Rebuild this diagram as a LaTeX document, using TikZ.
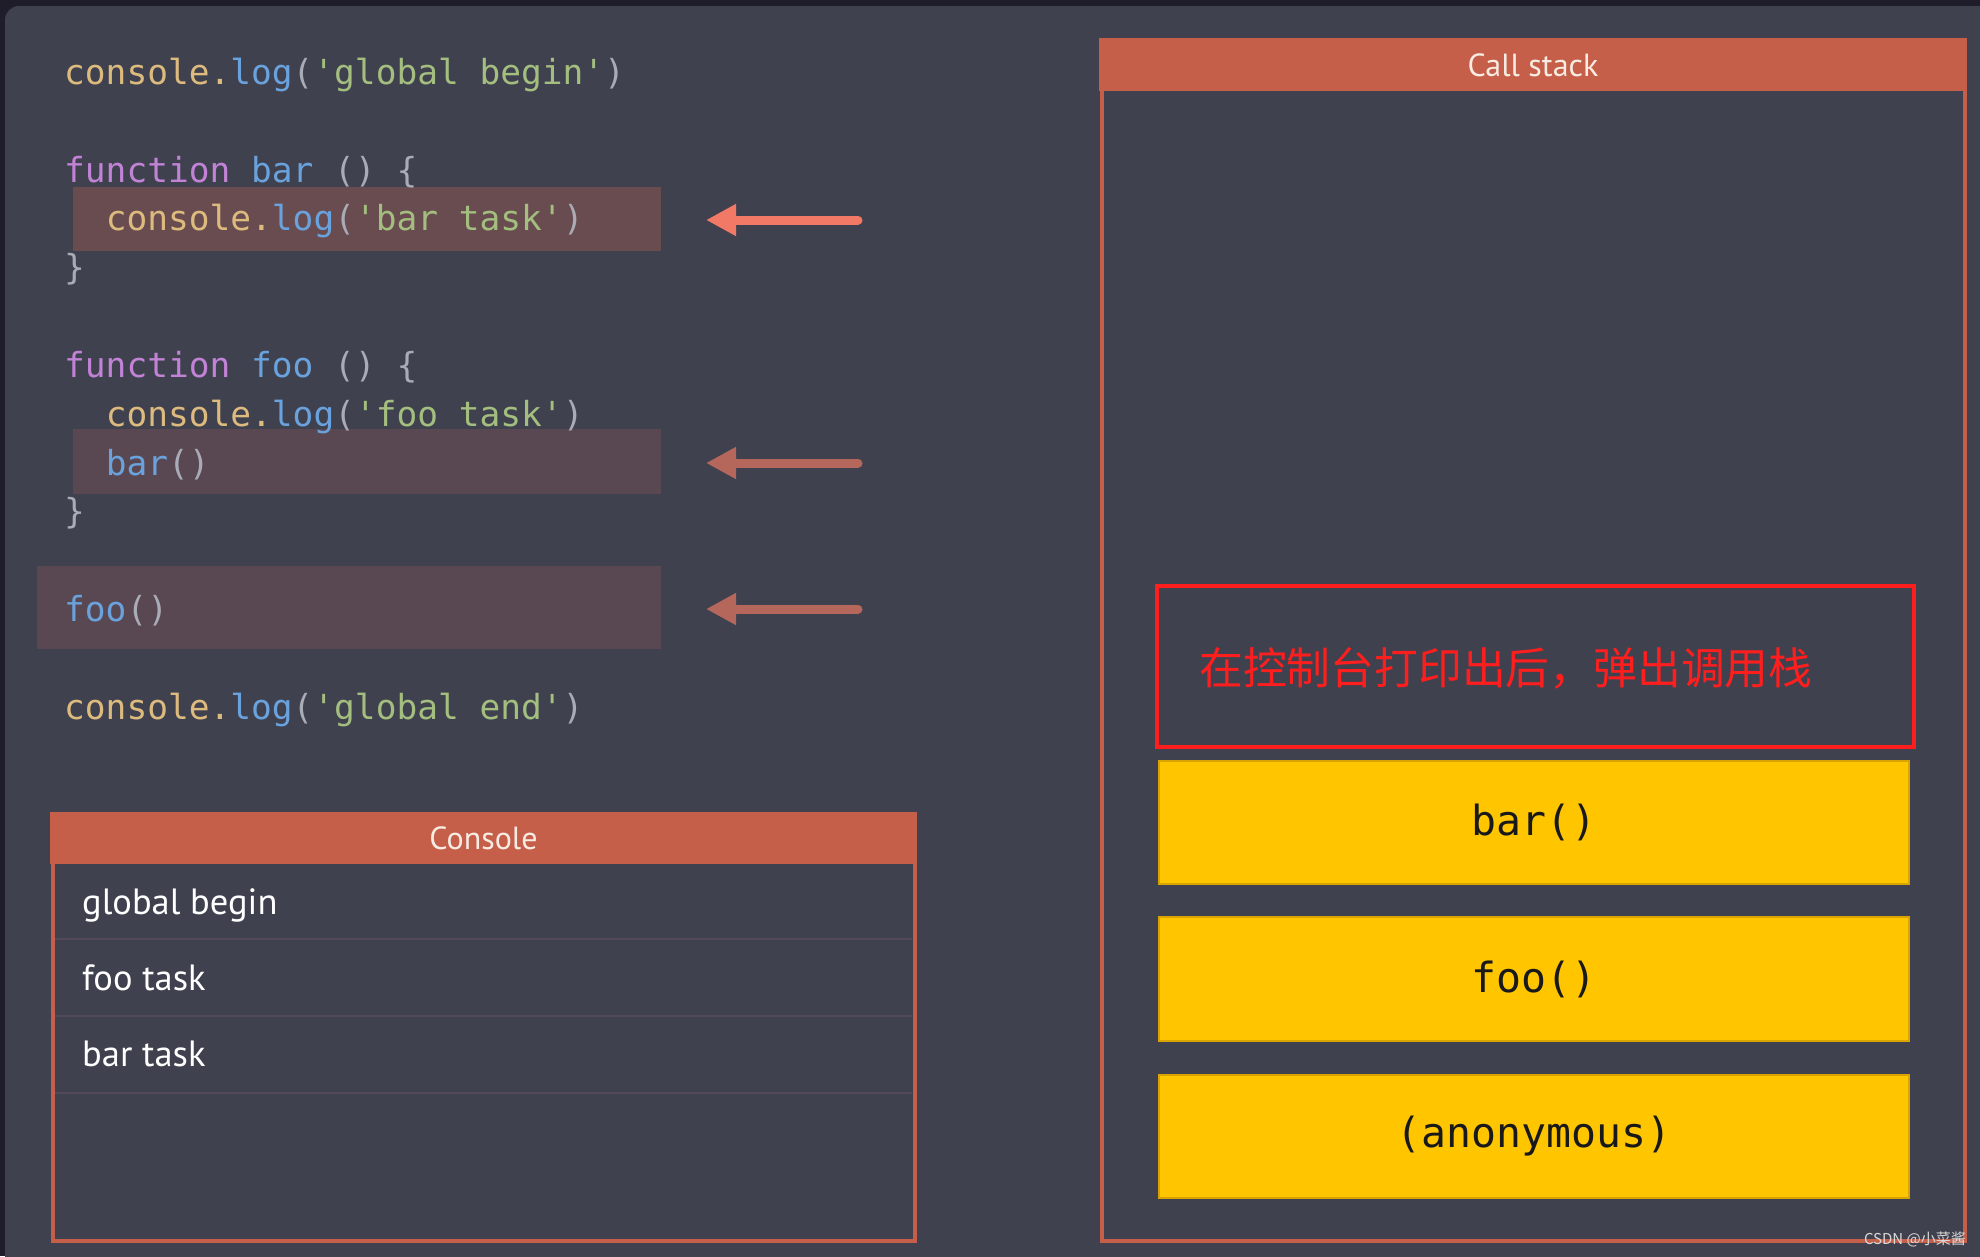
\documentclass[tikz,border=0pt]{standalone}
\usepackage{fontspec}
\setmainfont{PT Sans}
\setmonofont{DejaVu Sans Mono}
\newfontfamily\cjkfont{Noto Sans CJK SC}
\usetikzlibrary{arrows.meta}
\definecolor{outerbg}{HTML}{1F1D29}
\definecolor{panel}{HTML}{3F414E}
\definecolor{hlA}{HTML}{684C50}
\definecolor{hlB}{HTML}{594851}
\definecolor{arrA}{HTML}{F27966}
\definecolor{arrB}{HTML}{B5675C}
\definecolor{coral}{HTML}{C65F4A}
\definecolor{hdrtext}{HTML}{F6ECE2}
\definecolor{cTan}{HTML}{DDBB7E}
\definecolor{cBlue}{HTML}{6AA2DD}
\definecolor{cGreen}{HTML}{A3BE7E}
\definecolor{cPurple}{HTML}{C283D6}
\definecolor{cGrey}{HTML}{A9ABB6}
\definecolor{divider}{HTML}{54495A}
\definecolor{stackY}{HTML}{FFC600}
\definecolor{stackYb}{HTML}{D9A300}
\definecolor{alertred}{HTML}{FF1E1E}
\newcommand\ccT[1]{\textcolor{cTan}{#1}}
\newcommand\ccB[1]{\textcolor{cBlue}{#1}}
\newcommand\ccS[1]{\textcolor{cGreen}{#1}}
\newcommand\ccP[1]{\textcolor{cPurple}{#1}}
\newcommand\ccG[1]{\textcolor{cGrey}{#1}}
\newcommand\logline[1]{\ccT{console.}\ccB{log}\ccG{(}\ccS{'#1'}\ccG{)}}
\begin{document}
\begin{tikzpicture}[x=1pt,y=-1pt,
  codeline/.style={anchor=base west, inner sep=0pt, font=\ttfamily\fontsize{34.5}{40}\selectfont},
  arrowA/.style={draw=arrA, line width=9pt, line cap=round, -{Triangle[length=30pt,width=30pt]}, arrA},
  arrowB/.style={draw=arrB, line width=9pt, line cap=round, -{Triangle[length=30pt,width=30pt]}, arrB},
  hdrlabel/.style={text=hdrtext, font=\fontsize{32}{38}\selectfont, inner sep=0pt},
  frame/.style={draw=coral, line width=4pt},
  item/.style={anchor=base west, inner sep=0pt, text=white, font=\fontsize{36.5}{44}\selectfont},
  divline/.style={draw=divider, line width=2pt},
  stackframe/.style={fill=stackY, draw=stackYb, line width=1.5pt},
  stacklabel/.style={text=black!90, font=\ttfamily\fontsize{41.5}{48}\selectfont, inner sep=0pt}
]
\useasboundingbox (0,0) rectangle (1980,1256);
\fill[outerbg] (0,0) rectangle (1980,1256);
\begin{scope}
\clip (0,0) rectangle (1980,1256);
\fill[panel, rounded corners=14pt] (5,6) rectangle (2010,1290);
\end{scope}

% highlights
\fill[hlA] (73,187) rectangle (661,251);
\fill[hlB] (73,429) rectangle (661,494);
\fill[hlB] (37,566) rectangle (661,649);

% code (baselines)
\node[codeline] (l1) at (64,84.5) {\logline{global begin}};
\node[codeline] (l2) at (64,182) {\ccP{function} \ccB{bar} \ccG{() \{}};
\node[codeline] (l3) at (105.6,230.8) {\logline{bar task}};
\node[codeline] (l4) at (64,279.5) {\ccG{\}}};
\node[codeline] (l5) at (64,377.5) {\ccP{function} \ccB{foo} \ccG{() \{}};
\node[codeline] (l6) at (105.6,426.5) {\logline{foo task}};
\node[codeline] (l7) at (105.6,475) {\ccB{bar}\ccG{()}};
\node[codeline] (l8) at (64,523.5) {\ccG{\}}};
\node[codeline] (l9) at (64,621.5) {\ccB{foo}\ccG{()}};
\node[codeline] (l10) at (64,719.5) {\logline{global end}};

% arrows
\coordinate (a1s) at (858,220);
\coordinate (a1e) at (706,220);
\coordinate (a2s) at (858,463);
\coordinate (a2e) at (706,463);
\coordinate (a3s) at (858,609);
\coordinate (a3e) at (706,609);
\draw[arrowA] (a1s) -- (a1e);
\draw[arrowB] (a2s) -- (a2e);
\draw[arrowB] (a3s) -- (a3e);

% console box
\fill[coral] (50,812) rectangle (917,864);
\node[hdrlabel] (consolehdr) at (483.5,838) {Console};
\draw[frame] (52.5,812) -- (52.5,1240.5) -- (914.5,1240.5) -- (914.5,812);
\node[item] (o1) at (82,914) {global begin};
\node[item] (o2) at (82,990) {foo task};
\node[item] (o3) at (82,1066) {bar task};
\draw[divline] (55,939) -- (912,939);
\draw[divline] (55,1016) -- (912,1016);
\draw[divline] (55,1093) -- (912,1093);

% call stack box
\fill[coral] (1099,38) rectangle (1967,91);
\node[hdrlabel] (stackhdr) at (1533,65) {Call stack};
\draw[frame] (1101.5,91) -- (1101.5,1240.5) -- (1964.5,1240.5) -- (1964.5,91);

% note
\draw[alertred, line width=3.5pt] (1157,586) rectangle (1914,747);
\node[anchor=west, inner sep=0pt, text=alertred, font=\cjkfont\fontsize{43.8}{50}\selectfont] (note) at (1199,668) {在控制台打印出后，弹出调用栈};

% stack frames
\draw[stackframe] (1159,761) rectangle (1909,884);
\node[stacklabel] (sbar) at (1534,822.5) {bar()};
\draw[stackframe] (1159,917) rectangle (1909,1041);
\node[stacklabel] (sfoo) at (1534,979) {foo()};
\draw[stackframe] (1159,1075) rectangle (1909,1198);
\node[stacklabel] (sanon) at (1534,1136.5) {(anonymous)};

% watermark
\node[anchor=east, inner sep=0pt, text=white!85!black, font=\cjkfont\fontsize{15}{18}\selectfont] (wm) at (1966,1239) {CSDN @小菜酱};
\end{tikzpicture}
\end{document}
